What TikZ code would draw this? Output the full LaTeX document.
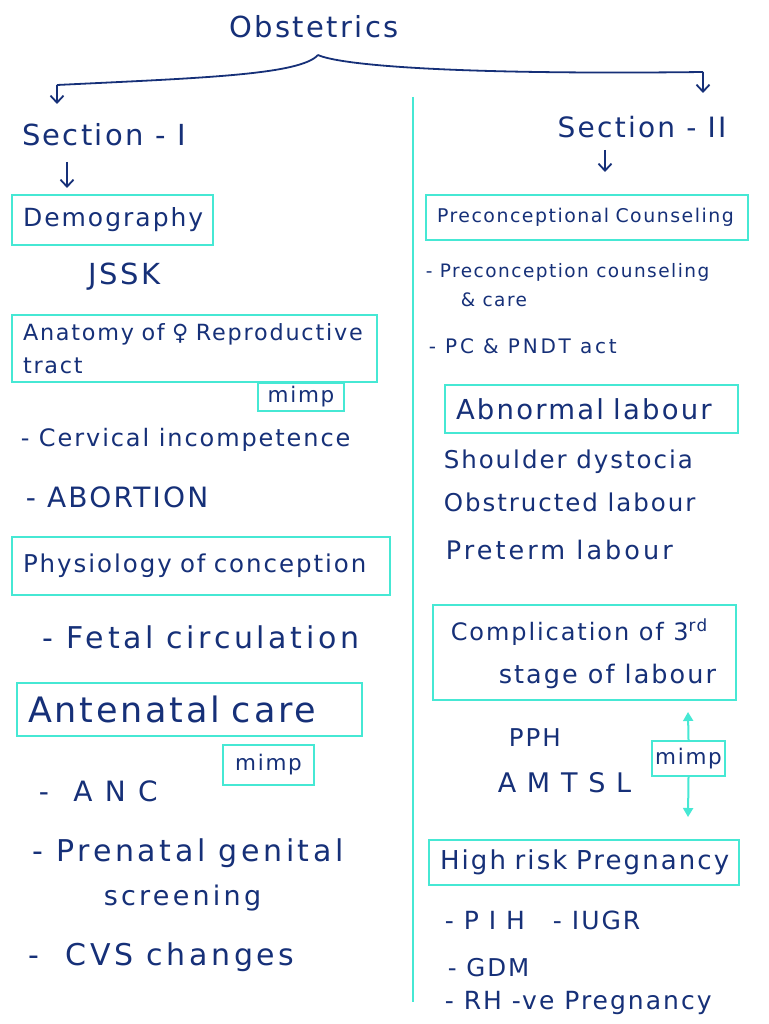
\documentclass[tikz,border=0pt]{standalone}
\usepackage{fontspec}
\setmainfont{DejaVu Sans}[LetterSpace=8]
\usetikzlibrary{arrows.meta}
\definecolor{ink}{RGB}{22,48,120}
\definecolor{aqua}{RGB}{70,232,212}

\begin{document}
\begin{tikzpicture}[x=1pt,y=-1pt,line width=1.6pt,
    every node/.style={text=ink,inner sep=0pt},
    txt/.style={anchor=west,font=\fontsize{24.5}{28}\selectfont},
    bigtxt/.style={anchor=west,font=\fontsize{#1}{32}\selectfont\addfontfeatures{LetterSpace=12}},
    small/.style={anchor=west,font=\fontsize{18.5}{22}\selectfont},
    box/.style={draw=aqua,line width=2.4pt,inner xsep=11pt,align=left,font=\fontsize{25}{34}\selectfont},
    mimpbox/.style={draw=aqua,line width=2.4pt,font=\fontsize{21.5}{22}\selectfont},
    pen/.style={draw=ink,line width=1.8pt},
    down/.style={pen,-{Straight Barb[length=7pt,width=13pt]}},
    tealarrow/.style={draw=aqua,line width=2pt,-{Triangle[length=9pt,width=10pt]}}]

    \useasboundingbox[fill=white] (0,0) rectangle (768,1024);

    % title and brace
    \node(title) at (314,27) {\fontsize{29}{32}\selectfont Obstetrics};
    \coordinate(apex) at (318,55);
    \coordinate(lend) at (57,85);
    \coordinate(rend) at (703,72);
    \coordinate(ldown) at (57,104);
    \coordinate(rdown) at (703,93);
    \draw[pen] (apex) .. controls (300,75) and (200,78) .. (lend);
    \draw[pen] (apex) .. controls (340,65) and (450,75) .. (rend);
    \draw[down] (lend) -- (ldown);
    \draw[down] (rend) -- (rdown);

    % divider
    \draw[draw=aqua,line width=2pt] (413,97) -- (413,1002);

    % section I
    \node(sec1) at (104,135) {\fontsize{29}{32}\selectfont Section - I};
    \coordinate(s1a) at (67,162);
    \coordinate(s1b) at (67,188);
    \draw[down] (s1a) -- (s1b);

    \node[box,text width=179,minimum height=50](demo) at (112.5,220) {Demography};
    \node[txt,font=\fontsize{29}{32}\selectfont](jssk) at (88,277) {JSSK};

    \node[box,text width=343,minimum height=67,font=\fontsize{22.3}{33}\selectfont](anat) at (194.5,348.5)
        {Anatomy of ♀ Reproductive\\ tract};
    \node[mimpbox,minimum width=86,minimum height=28](mimp1) at (301,397) {mimp};
    \node[txt,font=\fontsize{24}{28}\selectfont](cerv) at (20,440) {- Cervical incompetence};
    \node[txt,font=\fontsize{28}{32}\selectfont](abort) at (25,497) {- ABORTION};

    \node[box,text width=356,minimum height=58,font=\fontsize{24.5}{30}\selectfont](phys) at (201,566) {Physiology of conception};
    \node[bigtxt=30](fetal) at (42,637) {-\ Fetal circulation};

    \node[box,text width=323,minimum height=53,font=\fontsize{35}{38}\selectfont](anc) at (189.5,709.5) {Antenatal care};
    \node[mimpbox,minimum width=91,minimum height=40](mimp2) at (268.5,765) {mimp};
    \node[bigtxt=28](ancl) at (38,791) {-\ \ A N C};
    \node[bigtxt=30](pren) at (32,853) {-\ Prenatal genital};
    \node[bigtxt=27](scr) at (103,898) {screening};
    \node[bigtxt=30](cvs) at (28,957) {-\ \ CVS changes};

    % section II
    \node(sec2) at (642,127) {\fontsize{28}{32}\selectfont Section - II};
    \coordinate(s2a) at (605,150);
    \coordinate(s2b) at (605,172);
    \draw[down] (s2a) -- (s2b);

    \node[box,text width=300,minimum height=45,font=\fontsize{18.9}{22}\selectfont](precon) at (587,217.5) {Preconceptional Counseling};
    \node[small](pc1) at (425,272) {- Preconception counseling};
    \node[small](pc2) at (460,300) {\& care};
    \node[small,font=\fontsize{20}{22}\selectfont\addfontfeatures{LetterSpace=14}](pndt) at (428,346) {- PC \& PNDT act};

    \node[box,text width=271,minimum height=48,font=\fontsize{27.5}{30}\selectfont](abn) at (591.5,409) {Abnormal labour};
    \node[txt](shoul) at (443,462) {Shoulder dystocia};
    \node[txt](obst) at (443,502) {Obstructed labour};
    \node[bigtxt=25.5](prete) at (445,550) {Preterm labour};

    \node[box,minimum width=303,minimum height=95](comp) at (584.5,652.5) {};
    \node[txt,font=\fontsize{24}{26}\selectfont](comp1) at (450,632) {Complication of 3\textsuperscript{rd}};
    \node[txt,font=\fontsize{25.5}{28}\selectfont](comp2) at (498,676) {stage of labour};

    \node[txt](pph) at (508,738) {PPH};
    \node[anchor=west,font=\fontsize{27}{30}\selectfont](amtsl) at (497,783) {A M T S L};
    \node[mimpbox,minimum width=73,minimum height=35](mimp3) at (688.5,758.5) {mimp};
    \coordinate(up) at (688,712);
    \coordinate(dn) at (688,817);
    \draw[tealarrow] (mimp3.north) -- (up);
    \draw[tealarrow] (mimp3.south) -- (dn);

    \node[box,text width=288,minimum height=45,font=\fontsize{26}{28}\selectfont](hrp) at (584,862.5) {High risk Pregnancy};
    \node[txt,font=\fontsize{25}{28}\selectfont](pih) at (444,920) {- P I H\hspace{28pt}- IUGR};
    \node[txt](gdm) at (447,968) {- GDM};
    \node[txt,font=\fontsize{25}{28}\selectfont](rh) at (444,1003) {- RH -ve Pregnancy};
\end{tikzpicture}
\end{document}
